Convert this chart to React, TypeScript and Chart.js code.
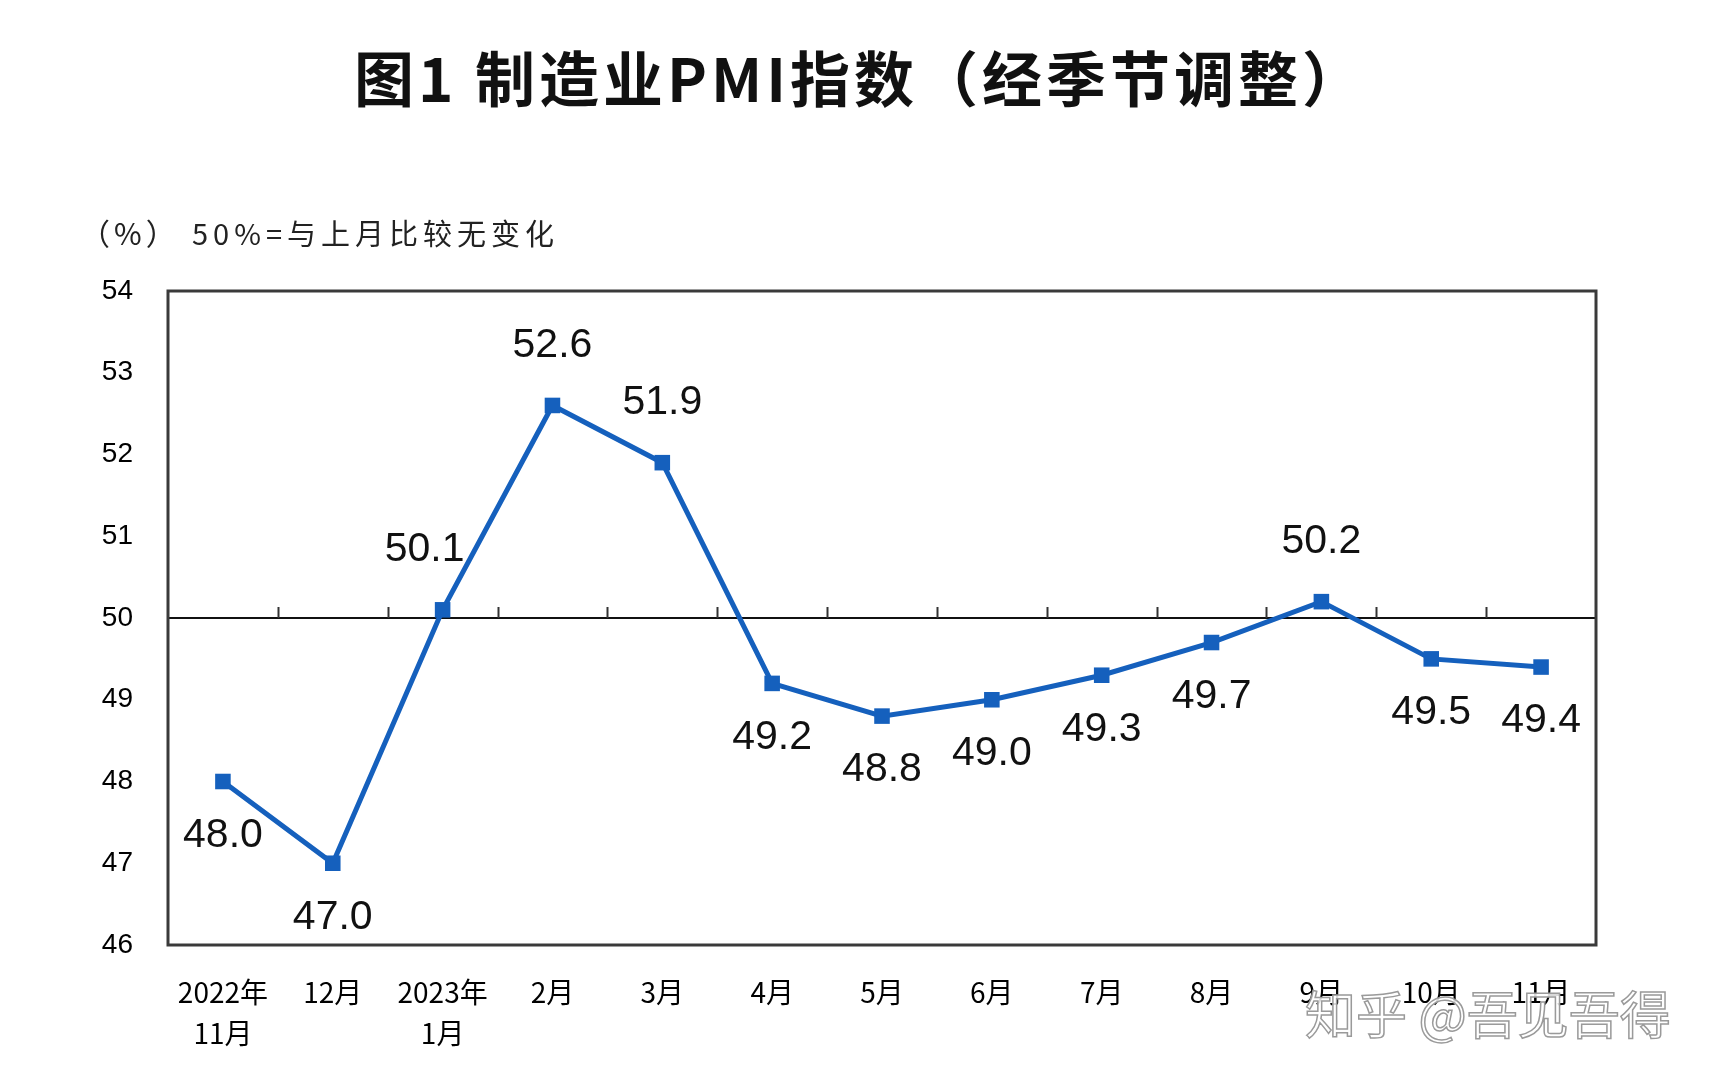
import React, { useEffect, useRef } from "react";
import { Chart, registerables } from "chart.js";

Chart.register(...registerables);

const categories: (string | string[])[] = [
  ["2022年", "11月"], "12月", ["2023年", "1月"], "2月", "3月", "4月", "5月",
  "6月", "7月", "8月", "9月", "10月", "11月",
];
const pmiValues = [48.0, 47.0, 50.1, 52.6, 51.9, 49.2, 48.8, 49.0, 49.3, 49.7, 50.2, 49.5, 49.4];
const yMin = 46;
const yMax = 54;
const yStep = 1;
const baseline = 50;

const titleText = "图1 制造业PMI指数（经季节调整）";
const unitText = "（%）";
const noteText = "50%=与上月比较无变化";
const watermarkText = "知乎 @吾见吾得";

const lineColor = "#1560BD";
const cjk = '"Noto Sans CJK SC", "Noto Sans", sans-serif';
const latin = '"Liberation Sans", Arial, sans-serif';

const framePlugin = {
  id: "framePlugin",
  beforeDatasetsDraw(chart: any) {
    const { ctx, chartArea, scales } = chart;
    const x = scales.x;
    const y = scales.y;
    ctx.save();
    const yb = y.getPixelForValue(baseline);
    ctx.strokeStyle = "#111";
    ctx.lineWidth = 2;
    ctx.beginPath();
    ctx.moveTo(chartArea.left, yb);
    ctx.lineTo(chartArea.right, yb);
    ctx.stroke();
    ctx.strokeStyle = "#333";
    ctx.lineWidth = 2;
    for (let i = 1; i < categories.length; i++) {
      const px = Math.round((x.getPixelForValue(i - 1) + x.getPixelForValue(i)) / 2) + 0.5;
      ctx.beginPath();
      ctx.moveTo(px, yb);
      ctx.lineTo(px, yb - 11);
      ctx.stroke();
    }
    ctx.strokeStyle = "#3a3a3a";
    ctx.lineWidth = 3;
    ctx.strokeRect(chartArea.left, chartArea.top, chartArea.right - chartArea.left, chartArea.bottom - chartArea.top);
    ctx.restore();
  },
  afterDatasetsDraw(chart: any) {
    const { ctx } = chart;
    const meta = chart.getDatasetMeta(0);
    const data = chart.data.datasets[0].data as number[];
    ctx.save();
    ctx.fillStyle = "#111";
    ctx.font = `41px ${latin}`;
    ctx.textAlign = "center";
    ctx.textBaseline = "middle";
    meta.data.forEach((pt: any, i: number) => {
      const v = data[i];
      const above = v >= baseline;
      let dx = 0;
      if (above && i + 1 < data.length && data[i + 1] > v) dx = -18;
      const dy = above ? -60 : 54;
      ctx.fillText(v.toFixed(1), pt.x + dx, pt.y + dy);
    });
    ctx.restore();
  },
};

export default function App() {
  const canvasRef = useRef<HTMLCanvasElement | null>(null);

  useEffect(() => {
    document.body.style.margin = "0";
    const canvas = canvasRef.current!;
    const chart = new Chart(canvas, {
      type: "line",
      data: {
        labels: categories as any,
        datasets: [
          {
            data: pmiValues,
            borderColor: lineColor,
            backgroundColor: lineColor,
            borderWidth: 5,
            pointStyle: "rect",
            pointRadius: 11,
            pointBorderWidth: 0,
            tension: 0,
          },
        ],
      },
      options: {
        animation: false,
        responsive: false,
        devicePixelRatio: 1,
        layout: { padding: { top: 291, right: 118, left: 0, bottom: 0 } },
        plugins: {
          legend: { display: false },
          tooltip: { enabled: false },
          title: { display: false },
        },
        scales: {
          x: {
            type: "category",
            offset: true,
            grid: { display: false },
            border: { display: false },
            ticks: {
              color: "#000",
              font: { family: cjk, size: 28, lineHeight: 1.45 },
              padding: 19,
              maxRotation: 0,
              autoSkip: false,
            },
            afterFit: (s: any) => {
              s.height = 135;
            },
          },
          y: {
            min: yMin,
            max: yMax,
            grid: { display: false, drawTicks: false },
            border: { display: false },
            ticks: {
              stepSize: yStep,
              color: "#000",
              font: { family: latin, size: 28 },
              padding: 35,
            },
            afterFit: (s: any) => {
              s.width = 168;
            },
          },
        },
      },
      plugins: [framePlugin],
    } as any);
    return () => chart.destroy();
  }, []);

  return (
    <div style={{ position: "absolute", left: 0, top: 0, width: 1714, height: 1080, background: "#fff", overflow: "hidden" }}>
      <canvas ref={canvasRef} width={1714} height={1080} style={{ position: "absolute", left: 0, top: 0 }} />
      <div
        style={{
          position: "absolute",
          left: 0,
          width: 1720,
          top: 38,
          textAlign: "center",
          fontFamily: cjk,
          fontWeight: 700,
          fontSize: 60,
          lineHeight: "76px",
          letterSpacing: 4,
          color: "#111",
        }}
      >
        {titleText}
      </div>
      <div style={{ position: "absolute", left: 80, top: 212, fontFamily: cjk, fontSize: 30, lineHeight: "40px", color: "#222", letterSpacing: 4 }}>
        {unitText}
      </div>
      <div style={{ position: "absolute", left: 192, top: 212, fontFamily: cjk, fontSize: 29, lineHeight: "40px", color: "#222", letterSpacing: 5 }}>
        {noteText}
      </div>
      <div
        style={{
          position: "absolute",
          left: 1305,
          top: 982,
          fontFamily: cjk,
          fontSize: 51,
          lineHeight: "60px",
          color: "rgba(255,255,255,0.85)",
          WebkitTextStroke: "1.5px #9a9a9a",
        }}
      >
        {watermarkText}
      </div>
    </div>
  );
}
